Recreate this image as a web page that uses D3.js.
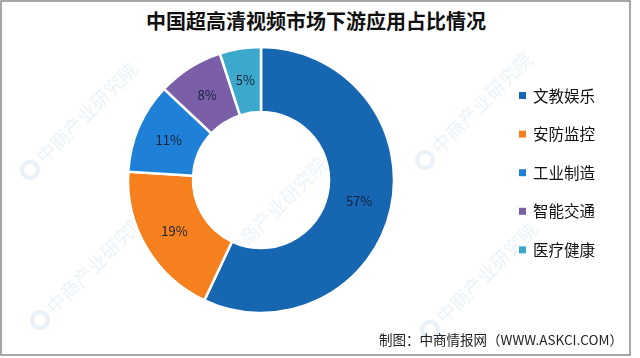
<!DOCTYPE html>
<html><head><meta charset="utf-8">
<script src="https://cdn.jsdelivr.net/npm/d3@7"></script>
<style>body{margin:0;background:#fff}svg{display:block}</style>
</head><body>
<svg id="c" width="640" height="358"></svg>
<script>
const categories = ["文教娱乐","安防监控","工业制造","智能交通","医疗健康"];
const values = [57,19,11,8,5];
const colors = ["#1766B1","#F7801E","#1F80D8","#7A5FA8","#3CA8CC"];
const title = "中国超高清视频市场下游应用占比情况";
const source = "制图：中商情报网（WWW.ASKCI.COM）";
const watermark = "中商产业研究院";

const svg = d3.select("#c");
const font = "'Noto Sans CJK SC','Microsoft YaHei',sans-serif";

// frame
svg.append("rect").attr("x",1).attr("y",1).attr("width",629).attr("height",354)
  .attr("fill","#fff").attr("stroke","#8a8a8a").attr("stroke-width",1.5);

// faint watermarks (kept fully inside the frame)
const wm = svg.append("g").attr("opacity",0.5);
const wmPos = [[30,170],[40,320],[220,265],[425,160],[430,330]];
wmPos.forEach(([x,y])=>{
  const g = wm.append("g").attr("transform",`translate(${x},${y}) rotate(-45)`);
  g.append("circle").attr("cx",0).attr("cy",0).attr("r",8).attr("fill","none")
    .attr("stroke","#d2e2f0").attr("stroke-width",4);
  g.append("text").attr("x",14).attr("y",7).attr("font-family",font).attr("font-size",19)
    .attr("fill","#d8e6f2").text(watermark);
});

svg.append("text").attr("x",316).attr("y",29).attr("text-anchor","middle")
  .attr("font-family",font).attr("font-weight","bold").attr("font-size",20)
  .attr("fill","#111").text(title);

const cx = 261, cy = 180, R = 133, r0 = 68;
const pie = d3.pie().sort(null).startAngle(0).endAngle(2*Math.PI);
const arcs = pie(values);
const arc = d3.arc().innerRadius(r0).outerRadius(R);
const g = svg.append("g").attr("transform",`translate(${cx},${cy})`);
g.selectAll("path").data(arcs).join("path")
  .attr("d",arc).attr("fill",(d,i)=>colors[i]).attr("stroke","#fff").attr("stroke-width",2.5);

const labArc = d3.arc().innerRadius((R+r0)/2).outerRadius((R+r0)/2);
g.selectAll("text.lab").data(arcs).join("text").attr("class","lab")
  .attr("transform",d=>{const c=labArc.centroid(d);return `translate(${c[0]},${c[1]})`;})
  .attr("text-anchor","middle").attr("dy","0.35em")
  .attr("font-family",font).attr("font-size",13).attr("fill","#16213a")
  .text(d=>d.data+"%");

const leg = svg.append("g");
categories.forEach((c,i)=>{
  const y = 96 + i*38.6;
  leg.append("rect").attr("x",519).attr("y",y-4).attr("width",7).attr("height",7).attr("fill",colors[i]);
  leg.append("text").attr("x",533).attr("y",y).attr("dy","0.36em")
    .attr("font-family",font).attr("font-size",15.5).attr("fill","#111").text(c);
});

svg.append("text").attr("x",623).attr("y",340).attr("dy","0.35em").attr("text-anchor","end")
  .attr("font-family",font).attr("font-size",13.5).attr("fill","#222").text(source);
</script>
</body></html>
